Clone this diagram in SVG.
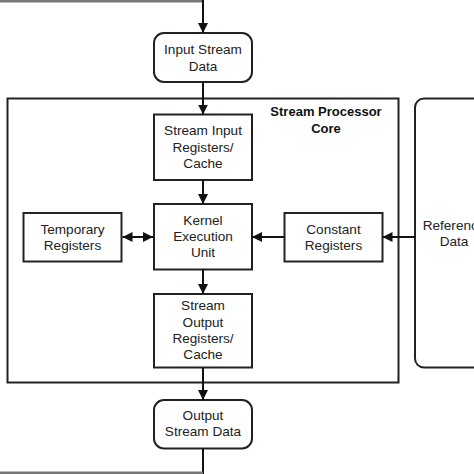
<svg xmlns="http://www.w3.org/2000/svg" width="474" height="474" viewBox="0 0 474 474">
<style>
.box{fill:#fff;stroke:#222;stroke-width:2}
.t{font-family:"Liberation Sans",Arial,sans-serif;font-size:13.6px;fill:#222;text-anchor:middle}
.b{font-family:"Liberation Sans",Arial,sans-serif;font-size:13px;font-weight:bold;fill:#111;text-anchor:middle}
.c{stroke:#111;stroke-width:2;fill:none}
.g{stroke:#777;stroke-width:3;fill:none}
</style>
<defs>
<marker id="ah" markerUnits="userSpaceOnUse" markerWidth="11" markerHeight="10" refX="10" refY="5" orient="auto-start-reverse">
<path d="M0,0 L10,5 L0,10 z" fill="#111"/>
</marker>
</defs>
<rect width="474" height="474" fill="#fff"/>
<g id="core">
<rect class="box" x="7.5" y="98.5" width="391" height="284"/>
<text class="b" x="326" y="116">Stream Processor</text>
<text class="b" x="326" y="132.5">Core</text>
</g>
<g id="reference">
<rect class="box" x="415" y="98.5" width="80" height="269" rx="9"/>
<text class="t" x="454" y="229.5">Reference</text>
<text class="t" x="454" y="246">Data</text>
</g>
<g id="input-stream">
<rect class="box" x="154" y="33" width="98" height="49" rx="10"/>
<text class="t" x="203" y="54">Input Stream</text>
<text class="t" x="203" y="70.5">Data</text>
</g>
<g id="stream-input">
<rect class="box" x="154" y="114.5" width="98" height="65.5"/>
<text class="t" x="203" y="135">Stream Input</text>
<text class="t" x="203" y="151.5">Registers/</text>
<text class="t" x="203" y="168">Cache</text>
</g>
<g id="kernel">
<rect class="box" x="154" y="204" width="98" height="65.5"/>
<text class="t" x="203" y="225">Kernel</text>
<text class="t" x="203" y="241">Execution</text>
<text class="t" x="203" y="257">Unit</text>
</g>
<g id="temporary">
<rect class="box" x="23.5" y="213" width="98" height="48.5"/>
<text class="t" x="72.5" y="233.5">Temporary</text>
<text class="t" x="72.5" y="249.5">Registers</text>
</g>
<g id="constant">
<rect class="box" x="284.5" y="213" width="98" height="48.5"/>
<text class="t" x="333.5" y="233.5">Constant</text>
<text class="t" x="333.5" y="249.5">Registers</text>
</g>
<g id="stream-output">
<rect class="box" x="154" y="294" width="98" height="73.5"/>
<text class="t" x="203" y="310">Stream</text>
<text class="t" x="203" y="326.5">Output</text>
<text class="t" x="203" y="343">Registers/</text>
<text class="t" x="203" y="359">Cache</text>
</g>
<g id="output-stream">
<rect class="box" x="154" y="400" width="98" height="48.5" rx="10"/>
<text class="t" x="203" y="420">Output</text>
<text class="t" x="203" y="436">Stream Data</text>
</g>
<g id="connectors">
<line class="g" x1="0" y1="1" x2="203" y2="1"/>
<line class="c" x1="203" y1="0" x2="203" y2="33" marker-end="url(#ah)"/>
<line class="c" x1="203" y1="82" x2="203" y2="114.5" marker-end="url(#ah)"/>
<line class="c" x1="203" y1="180" x2="203" y2="204" marker-end="url(#ah)"/>
<line class="c" x1="203" y1="269.5" x2="203" y2="294" marker-end="url(#ah)"/>
<line class="c" x1="203" y1="367.5" x2="203" y2="400" marker-end="url(#ah)"/>
<line class="c" x1="122.5" y1="237" x2="153" y2="237" marker-start="url(#ah)" marker-end="url(#ah)"/>
<line class="c" x1="284.5" y1="237" x2="252" y2="237" marker-end="url(#ah)"/>
<line class="c" x1="415" y1="237" x2="382.5" y2="237" marker-end="url(#ah)"/>
<line class="c" x1="203" y1="448.5" x2="203" y2="474"/>
<line class="g" x1="0" y1="473" x2="203" y2="473"/>
</g>
</svg>
